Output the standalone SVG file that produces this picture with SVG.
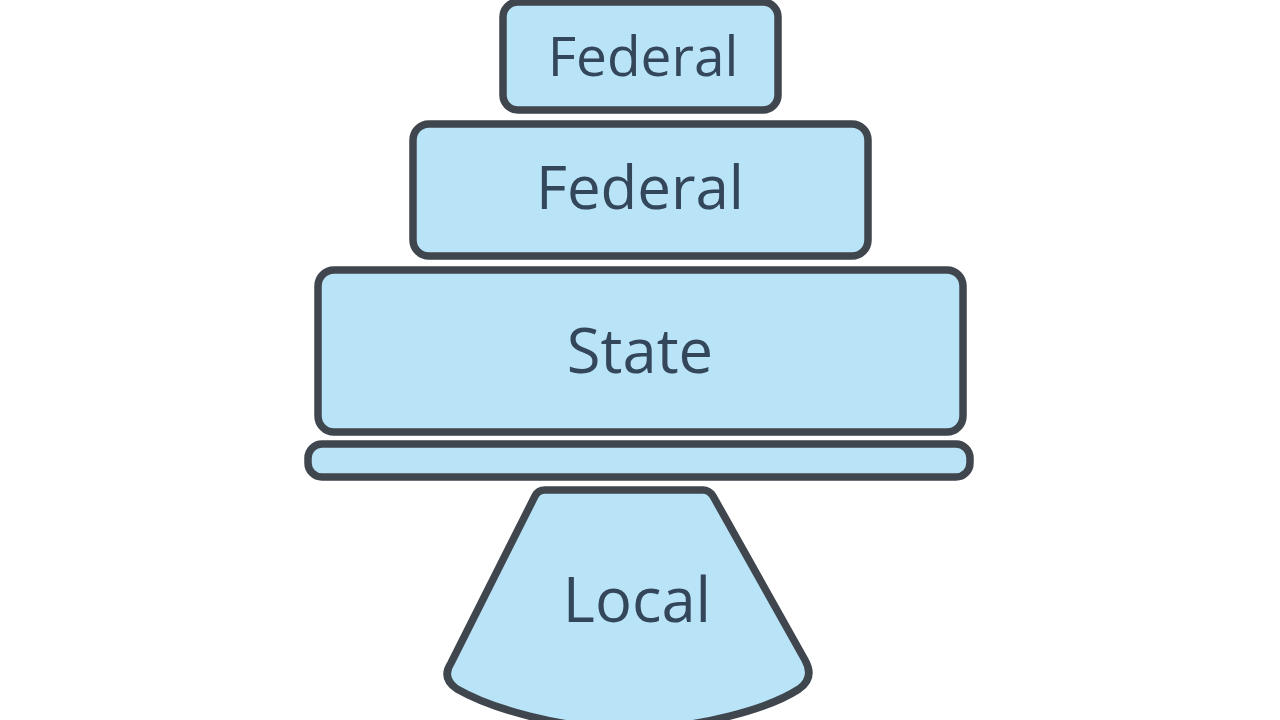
<svg xmlns="http://www.w3.org/2000/svg" width="1280" height="720" viewBox="0 0 1280 720">
<style>
.s{fill:#b9e4f8;stroke:#40464e;stroke-width:7.500;stroke-linejoin:round}
text{font-family:"Open Sans","Liberation Sans",sans-serif;fill:#34465a;text-anchor:middle}
</style>
<rect width="1280" height="720" fill="#fff"/>
<g id="federal-top"><rect class="s" x="503" y="2" width="275" height="108" rx="15"/><text x="643" y="76" font-size="55">Federal</text></g>
<g id="federal"><rect class="s" x="413" y="124" width="455" height="132" rx="16"/><text x="640" y="209" font-size="60">Federal</text></g>
<g id="state"><rect class="s" x="318" y="270" width="645" height="162" rx="16"/><text x="640" y="373" font-size="61.500">State</text></g>
<g id="plate"><rect class="s" x="308" y="444" width="662" height="33" rx="14"/></g>
<g id="local"><path class="s" d="M545 490H703Q709 490 713 496L805 660Q815 678 799 689C770 708 700 729 628 729C560 729 490 708 457 689Q441 678 451 663L535 496Q538 490 545 490Z"/><text x="637" y="622" font-size="61.500">Local</text></g>
</svg>
